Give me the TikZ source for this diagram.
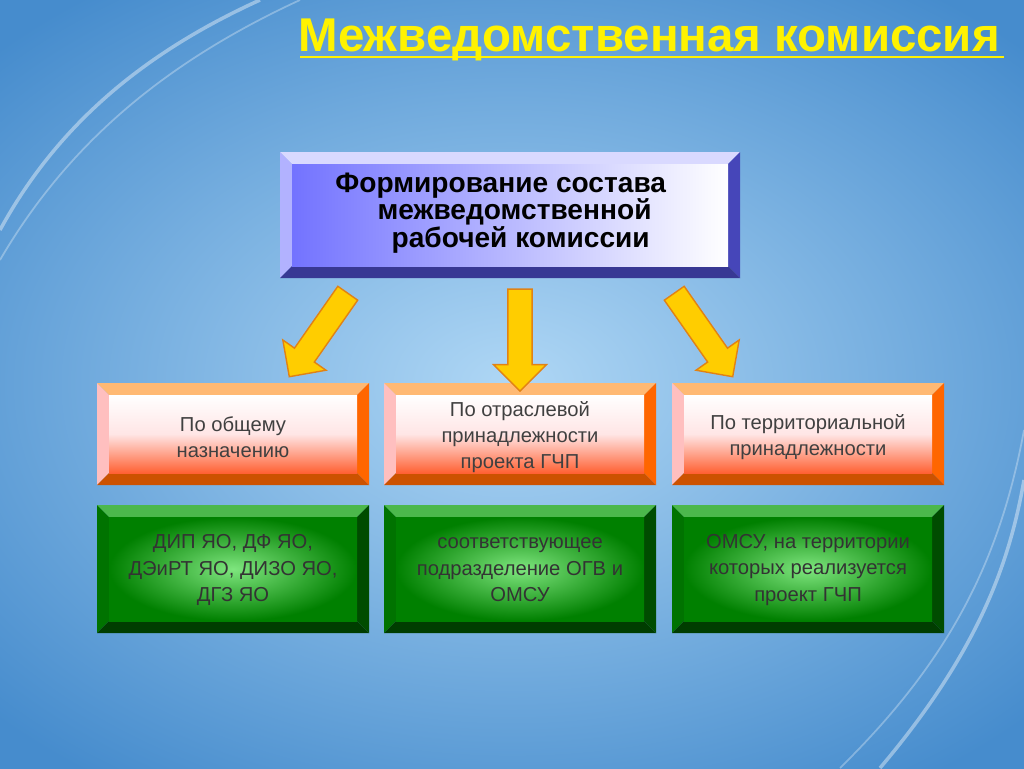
\documentclass[tikz,border=0pt]{standalone}
\usepackage{fontspec}
\setmainfont{Liberation Sans}
\usetikzlibrary{shapes.arrows,calc}
\definecolor{bgdark}{RGB}{70,140,205}
\definecolor{bglight}{RGB}{175,215,245}
\definecolor{arrowfill}{RGB}{255,205,0}
\definecolor{arrowedge}{RGB}{225,130,20}
\tikzset{
  boxtext/.style={align=center,font=\fontsize{11.5}{15}\selectfont,text=black!75},
  downarrow/.style={single arrow,draw=arrowedge,fill=arrowfill,line width=0.8pt,
    minimum width=30pt,single arrow head extend=4pt,single arrow tip angle=90,
    inner sep=3pt,minimum height=58pt}
}
% bevelled box: name, x1, y1, x2, y2, light, mid, dark, face shading
\newcommand{\bevelbox}[9]{%
  \coordinate (#1-nw) at (#2,#3); \coordinate (#1-se) at (#4,#5);
  \fill[#6] (#2,#3) -- (#4,#3) -- (#4-12,#3+12) -- (#2+12,#3+12) -- cycle;
  \fill[#7] (#2,#3) -- (#2+12,#3+12) -- (#2+12,#5-12) -- (#2,#5) -- cycle;
  \fill[#8] (#4,#3) -- (#4,#5) -- (#4-12,#5-12) -- (#4-12,#3+12) -- cycle;
  \fill[#8!80!black] (#2,#5) -- (#2+12,#5-12) -- (#4-12,#5-12) -- (#4,#5) -- cycle;
  \shade[#9] (#2+12,#3+12) rectangle (#4-12,#5-12);
  \coordinate (#1) at ($(#1-nw)!0.5!(#1-se)$);
}
\begin{document}
\begin{tikzpicture}[x=0.02cm,y=-0.02cm]
\useasboundingbox (0,0) rectangle (1024,768);
% background
\shade[inner color=bglight,outer color=bgdark] (-200,-100) rectangle (1224,868);
\draw[white,opacity=0.4,line width=2pt] (0,230) .. controls (60,120) and (150,50) .. (260,0);
\draw[white,opacity=0.3,line width=1pt] (0,260) .. controls (70,140) and (170,60) .. (300,0);
\draw[white,opacity=0.4,line width=2pt] (880,768) .. controls (980,650) and (1010,560) .. (1024,480);
\draw[white,opacity=0.3,line width=1pt] (840,768) .. controls (950,660) and (1000,560) .. (1024,430);

% title
\node[font=\fontsize{27}{30}\bfseries\selectfont,text=yellow,anchor=east] (title) at (1006,40) {Межведомственная комиссия};
\draw[yellow,line width=1.5pt] (300,57) -- (1004,57);

% top box
\bevelbox{top}{280}{152}{740}{278}{blue!15}{blue!30!white}{blue!45!gray}{left color=blue!55!white,right color=white}
\node[align=left,font=\fontsize{16}{15.5}\bfseries\selectfont,anchor=west,inner sep=0pt] (toptext) at (335,213)
  {Формирование состава\\ \hspace*{1.5em}межведомственной\\ \hspace*{2em}рабочей комиссии};

% orange row
\foreach \n/\x/\t in {oa/97/{По общему\\назначению},ob/384/{По отраслевой\\принадлежности\\проекта ГЧП},oc/672/{По территориальной\\принадлежности}}{
  \bevelbox{\n}{\x}{383}{\x+272}{485}{orange!55!white}{red!25!white}{orange!80!red}{top color=white,bottom color=red!55!orange!80!white,middle color=red!10!white}
  \node[boxtext] (\n-text) at (\x+136,437) {\t};
}
% green row
\foreach \n/\x/\t in {ga/97/{ДИП ЯО, ДФ ЯО,\\ДЭиРТ ЯО, ДИЗО ЯО,\\ДГЗ ЯО},gb/384/{соответствующее\\подразделение ОГВ и\\ОМСУ},gc/672/{ОМСУ, на территории\\которых реализуется\\проект ГЧП}}{
  \bevelbox{\n}{\x}{505}{\x+272}{633}{green!60!black!70!white}{green!45!black}{green!30!black}{inner color=green!45!white!90!black,outer color=green!50!black,shading=radial}
  \node[boxtext,text=black!80] (\n-text) at (\x+136,570) {\t};
}

% arrows
\node[downarrow,rotate=-125] (arrL) at (322,330) {};
\node[downarrow,rotate=-90] (arrM) at (520,334) {};
\node[downarrow,rotate=-55] (arrR) at (700,330) {};
\end{tikzpicture}
\end{document}
